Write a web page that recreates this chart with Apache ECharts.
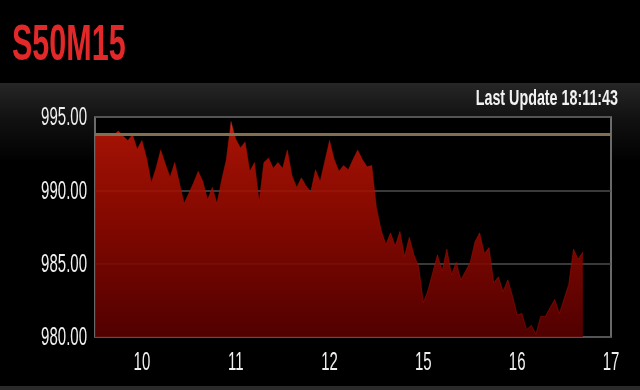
<!DOCTYPE html>
<html>
<head>
<meta charset="utf-8">
<script src="https://cdn.jsdelivr.net/npm/echarts@6/dist/echarts.min.js"></script>
<style>
  html, body { margin: 0; padding: 0; background: #000; }
  #chart { width: 640px; height: 390px; }
</style>
</head>
<body>
<div id="chart"></div>
<script>
// ---- data ----
const titleText = 'S50M15';
const updateText = 'Last Update 18:11:43';
const sessionStarts = ['09:30', '14:30'];
const sessionEnds = ['12:27', '17:00'];
const stepMinutes = 3;
const hourLabels = ['10', '11', '12', '15', '16', '17'];
const yTicks = [980, 985, 990, 995];
const referenceLevel = 993.8;
const prices = [
  993.8, 993.8, 993.8, 993.8, 993.8, 994.05, 993.7, 993.4, 993.8, 992.8,
  993.4, 992.2, 990.5, 991.5, 992.75, 991.8, 990.9, 991.9, 990.5, 989.1,
  989.8, 990.5, 991.3, 990.6, 989.35, 990.2, 989.1, 990.7, 992.1, 994.7,
  993.5, 992.9, 993.3, 991.3, 991.9, 989.2, 991.9, 992.2, 991.5, 991.9,
  991.5, 992.75, 991.0, 990.2, 990.85, 990.3, 989.9, 991.4, 990.6, 992.0,
  993.4, 992.1, 991.3, 991.7, 991.4, 992.1, 992.75, 992.1, 991.6, 991.7,
  988.8, 987.3, 986.3, 987.1, 986.2, 987.2, 985.5, 986.8, 985.6, 984.8,
  982.35, 983.2, 984.4, 985.6, 984.5, 986.0, 984.25, 985.1, 983.9, 984.5,
  985.1, 986.5, 987.1, 985.7, 986.1, 983.7, 984.1, 983.1, 983.9, 982.8,
  981.5, 981.6, 980.5, 980.8, 980.2, 981.4, 981.4, 982.0, 982.55, 981.6,
  982.6, 983.6, 986.0, 985.3, 985.8
];

// ---- build categories (trading-time slots) ----
function toMin(s) { const p = s.split(':'); return (+p[0]) * 60 + (+p[1]); }
function toStr(m) { const h = Math.floor(m / 60), mm = m % 60; return (h < 10 ? '0' : '') + h + ':' + (mm < 10 ? '0' : '') + mm; }
const categories = [];
for (let s = 0; s < sessionStarts.length; s++) {
  for (let m = toMin(sessionStarts[s]); m <= toMin(sessionEnds[s]); m += stepMinutes) categories.push(toStr(m));
}

const labelFont = '"Liberation Sans", Arial, sans-serif';
const labelScale = 0.6;

const chart = echarts.init(document.getElementById('chart'), null, { renderer: 'canvas' });
chart.setOption({
  backgroundColor: '#000',
  animation: false,
  graphic: [
    {
      id: 'band', type: 'rect', z: -10, silent: true,
      shape: { x: 0, y: 83, width: 640, height: 80 },
      style: { fill: new echarts.graphic.LinearGradient(0, 0, 0, 1, [
        { offset: 0, color: '#262626' }, { offset: 0.45, color: '#111' }, { offset: 1, color: '#000' }
      ]) }
    },
    {
      id: 'bottomStrip', type: 'rect', z: -10, silent: true,
      shape: { x: 0, y: 386, width: 640, height: 4 },
      style: { fill: '#2a2a2a' }
    },
    {
      id: 'title', type: 'text', x: 12, y: 46, scaleX: 0.61,
      style: { text: titleText, fill: '#e3282a', fontSize: 50, fontWeight: 'bold', fontFamily: labelFont, align: 'left', verticalAlign: 'middle' }
    },
    {
      id: 'update', type: 'text', x: 618, y: 99, scaleX: 0.65,
      style: { text: updateText, fill: '#f2f2f2', fontSize: 22, fontWeight: 'bold', fontFamily: labelFont, align: 'right', verticalAlign: 'middle' }
    }
  ],
  grid: {
    left: 95, right: 29, top: 117, bottom: 53,
    show: true, backgroundColor: '#000', borderColor: '#8c8c8c', borderWidth: 1.5
  },
  xAxis: {
    type: 'category',
    data: categories,
    boundaryGap: false,
    axisLine: { show: false },
    axisTick: { show: false },
    splitLine: { show: false },
    axisLabel: { show: false }
  },
  yAxis: {
    type: 'value',
    min: yTicks[0], max: yTicks[yTicks.length - 1], interval: yTicks[1] - yTicks[0],
    axisLine: { show: false },
    axisTick: { show: false },
    splitLine: { lineStyle: { color: '#4e4e4e', width: 1.5 } },
    axisLabel: { show: false }
  },
  series: [
    {
      type: 'line', z: 1, data: [], symbol: 'none',
      markLine: {
        silent: true, symbol: 'none', label: { show: false },
        lineStyle: { color: '#807050', width: 3, type: 'solid' },
        data: [{ yAxis: referenceLevel }]
      }
    },
    {
      type: 'line', z: 3, data: prices, symbol: 'none', smooth: false,
      lineStyle: { width: 0.5, color: 'rgba(175,18,5,0.9)' },
      areaStyle: {
        origin: 'start',
        opacity: 1,
        color: new echarts.graphic.LinearGradient(0, 0, 0, 1, [
          { offset: 0, color: 'rgba(225,85,55,0.88)' },
          { offset: 0.07, color: 'rgba(185,20,5,0.88)' },
          { offset: 0.45, color: 'rgba(150,10,0,0.88)' },
          { offset: 1, color: 'rgba(92,0,0,0.88)' }
        ])
      }
    }
  ]
});

// ---- tick labels, positioned through the chart's own axes ----
const labelGraphics = [];
yTicks.forEach(function (v, i) {
  const p = chart.convertToPixel({ gridIndex: 0 }, [0, v]);
  labelGraphics.push({
    id: 'ylab' + i, type: 'text', x: p[0] - 8, y: p[1] + 1.5, scaleX: labelScale,
    style: { text: v.toFixed(2), fill: '#f0f0f0', fontSize: 25, fontFamily: labelFont, align: 'right', verticalAlign: 'middle' }
  });
});
categories.forEach(function (c, idx) {
  const h = String(parseInt(c, 10));
  if (c.slice(3) === '00' && hourLabels.indexOf(h) >= 0) {
    const p = chart.convertToPixel({ gridIndex: 0 }, [idx, yTicks[0]]);
    labelGraphics.push({
      id: 'xlab' + h, type: 'text', x: p[0], y: p[1] + 26, scaleX: labelScale,
      style: { text: h, fill: '#f0f0f0', fontSize: 25, fontFamily: labelFont, align: 'center', verticalAlign: 'middle' }
    });
  }
});
chart.setOption({ graphic: labelGraphics });
</script>
</body>
</html>
